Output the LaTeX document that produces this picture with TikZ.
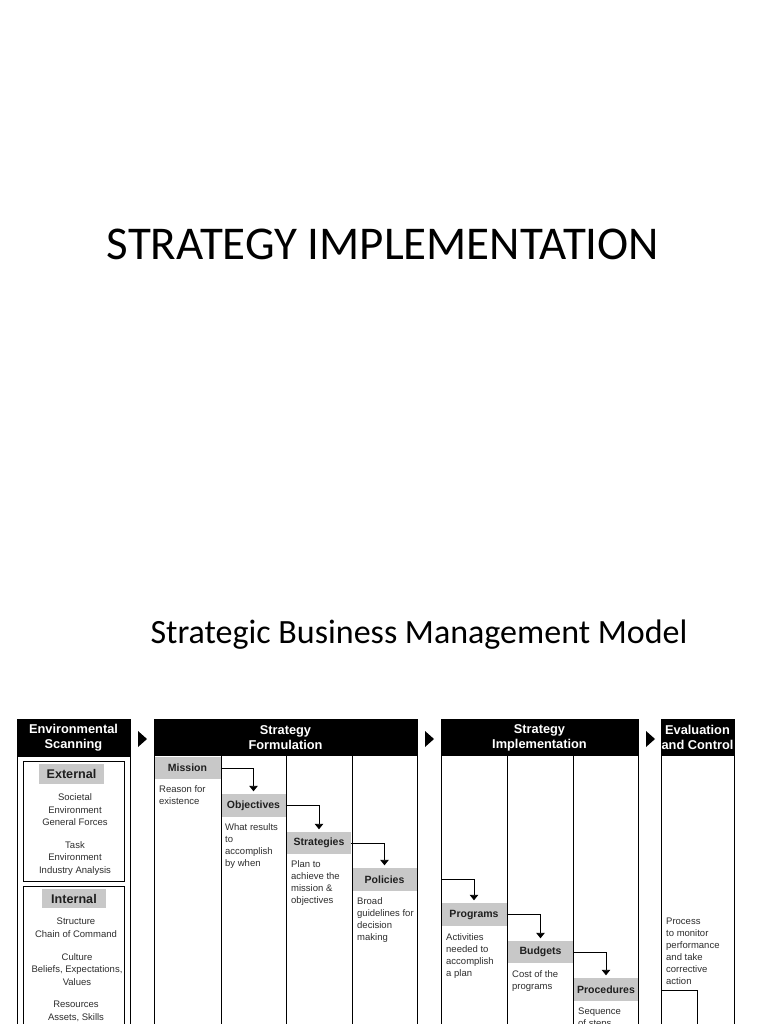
\documentclass[tikz,border=0pt]{standalone}
\usepackage{fontspec}
\setmainfont{Liberation Sans}
\newfontfamily\titlefont{Carlito}
\usetikzlibrary{arrows.meta}
\definecolor{lblgray}{RGB}{200,200,200}
\definecolor{txt}{RGB}{45,45,45}
\begin{document}
\begin{tikzpicture}[x=1pt,y=-1pt,
  colbox/.style={draw=black, line width=0.9pt},
  hdr/.style={fill=black, draw=black, line width=0.9pt, text=white, font=\bfseries\fontsize{12.8}{15}\selectfont, align=center, inner sep=0pt},
  lbl/.style={fill=lblgray, inner sep=0pt, font=\bfseries\fontsize{10.5}{12}\selectfont, text=black!88},
  biglbl/.style={lbl, font=\bfseries\fontsize{12.6}{14}\selectfont},
  body/.style={anchor=north west, inner sep=0pt, align=left, font=\fontsize{9.5}{12}\selectfont, text=txt},
  envtxt/.style={inner sep=0pt, align=center, font=\fontsize{9.5}{12.4}\selectfont, text=txt},
  arr/.style={draw=black, line width=0.9pt, -{Triangle[width=8.5pt,length=5.5pt]}},
  plainline/.style={draw=black, line width=0.9pt},
  tri/.style={fill=black},
  ttl/.style={inner sep=0pt, anchor=base, text=black},
]
\useasboundingbox (0,0) rectangle (768,1024);
\clip (0,0) rectangle (768,1024);
\fill[white] (0,0) rectangle (768,1024);

% titles
\node[ttl, font=\titlefont\fontsize{47}{52}\selectfont] (title) at (383,259) {STRATEGY IMPLEMENTATION};
\node[ttl, font=\titlefont\fontsize{34}{40}\selectfont] (subtitle) at (419,643) {Strategic Business Management Model};

% column bodies
\draw[colbox] (17,719) rectangle (130,1035);
\draw[colbox] (154,719) rectangle (417,1035);
\draw[colbox] (221,755) -- (221,1035) (286,755) -- (286,1035) (352,755) -- (352,1035);
\draw[colbox] (441,719) rectangle (638,1035);
\draw[colbox] (507,755) -- (507,1035) (573,755) -- (573,1035);
\draw[colbox] (661,719) rectangle (734,1035);

% headers
\node[hdr, minimum width=113pt, minimum height=37pt] (envh) at (73.5,737.5) {Environmental\\Scanning};
\node[hdr, minimum width=263pt, minimum height=36pt] (sfh) at (285.5,737.5) {Strategy\\Formulation};
\node[hdr, minimum width=197pt, minimum height=36pt] (sih) at (539.5,737.5) {Strategy\\Implementation};
\node[hdr, minimum width=73pt, minimum height=36pt] (ech) at (697.5,737.5) {Evaluation\\and Control};

% arrows between phases
\fill[tri] (138,731) -- (147,739) -- (138,747) -- cycle;
\fill[tri] (425,731) -- (434,739) -- (425,747) -- cycle;
\fill[tri] (646,731) -- (655,739) -- (646,747) -- cycle;

% environmental scanning
\draw[colbox] (23,761) rectangle (124,881);
\draw[colbox] (23,886) rectangle (124,1035);
\node[biglbl, minimum width=65pt, minimum height=20pt] (ext) at (71.5,774) {External};
\node[biglbl, minimum width=64pt, minimum height=19pt] (int) at (74,898.5) {Internal};
\node[envtxt] (soc) at (75,809.6) {Societal\\Environment\\General Forces};
\node[envtxt] (task) at (75,858.5) {Task\\Environment\\Industry Analysis};
\node[envtxt] (struc) at (76,927.6) {Structure\\Chain of Command};
\node[envtxt] (cult) at (77,969.3) {Culture\\Beliefs, Expectations,\\Values};
\node[envtxt] (res) at (76,1011.5) {Resources\\Assets, Skills};

% strategy formulation
\node[lbl, minimum width=66pt, minimum height=22pt] (mission) at (187.5,768) {Mission};
\node[lbl, minimum width=64pt, minimum height=23pt] (objectives) at (253.5,805.5) {Objectives};
\node[lbl, minimum width=64pt, minimum height=22pt] (strategies) at (319,843) {Strategies};
\node[lbl, minimum width=64pt, minimum height=23pt] (policies) at (384.5,879.5) {Policies};
\node[body] (missiont) at (159,785.5) {Reason for\\existence};
\node[body] (objt) at (225,823.5) {What results\\to\\accomplish\\by when};
\node[body] (strt) at (291,860.5) {Plan to\\achieve the\\mission \&\\objectives};
\node[body] (polt) at (357,897.5) {Broad\\guidelines for\\decision\\making};

% strategy implementation
\node[lbl, minimum width=65pt, minimum height=23pt] (programs) at (474,914.5) {Programs};
\node[lbl, minimum width=65pt, minimum height=22pt] (budgets) at (540.5,952) {Budgets};
\node[lbl, minimum width=64pt, minimum height=23pt] (procedures) at (606,989.5) {Procedures};
\node[body] (progt) at (446,933.5) {Activities\\needed to\\accomplish\\a plan};
\node[body] (budt) at (512,970.5) {Cost of the\\programs};
\node[body] (proct) at (578,1007.5) {Sequence\\of steps};

% evaluation and control
\node[body] (evalt) at (666,917.5) {Process\\to monitor\\performance\\and take\\corrective\\action};

% connectors
\draw[arr] (mission.east) -| ([yshift=2.5pt]objectives.north);
\draw[arr] (objectives.east) -| ([yshift=2.5pt]strategies.north);
\draw[arr] (strategies.east) -| ([yshift=2.5pt]policies.north);
\coordinate (pgin) at (441,879);
\draw[arr] (pgin) -| ([yshift=2.5pt]programs.north);
\draw[arr] (programs.east) -| ([yshift=2.5pt]budgets.north);
\draw[arr] (budgets.east) -| ([yshift=2.5pt]procedures.north);
\coordinate (fbA) at (661,990);
\coordinate (fbB) at (697,990);
\coordinate (fbC) at (697,1035);
\draw[plainline] (fbA) -- (fbB) -- (fbC);
\end{tikzpicture}
\end{document}
